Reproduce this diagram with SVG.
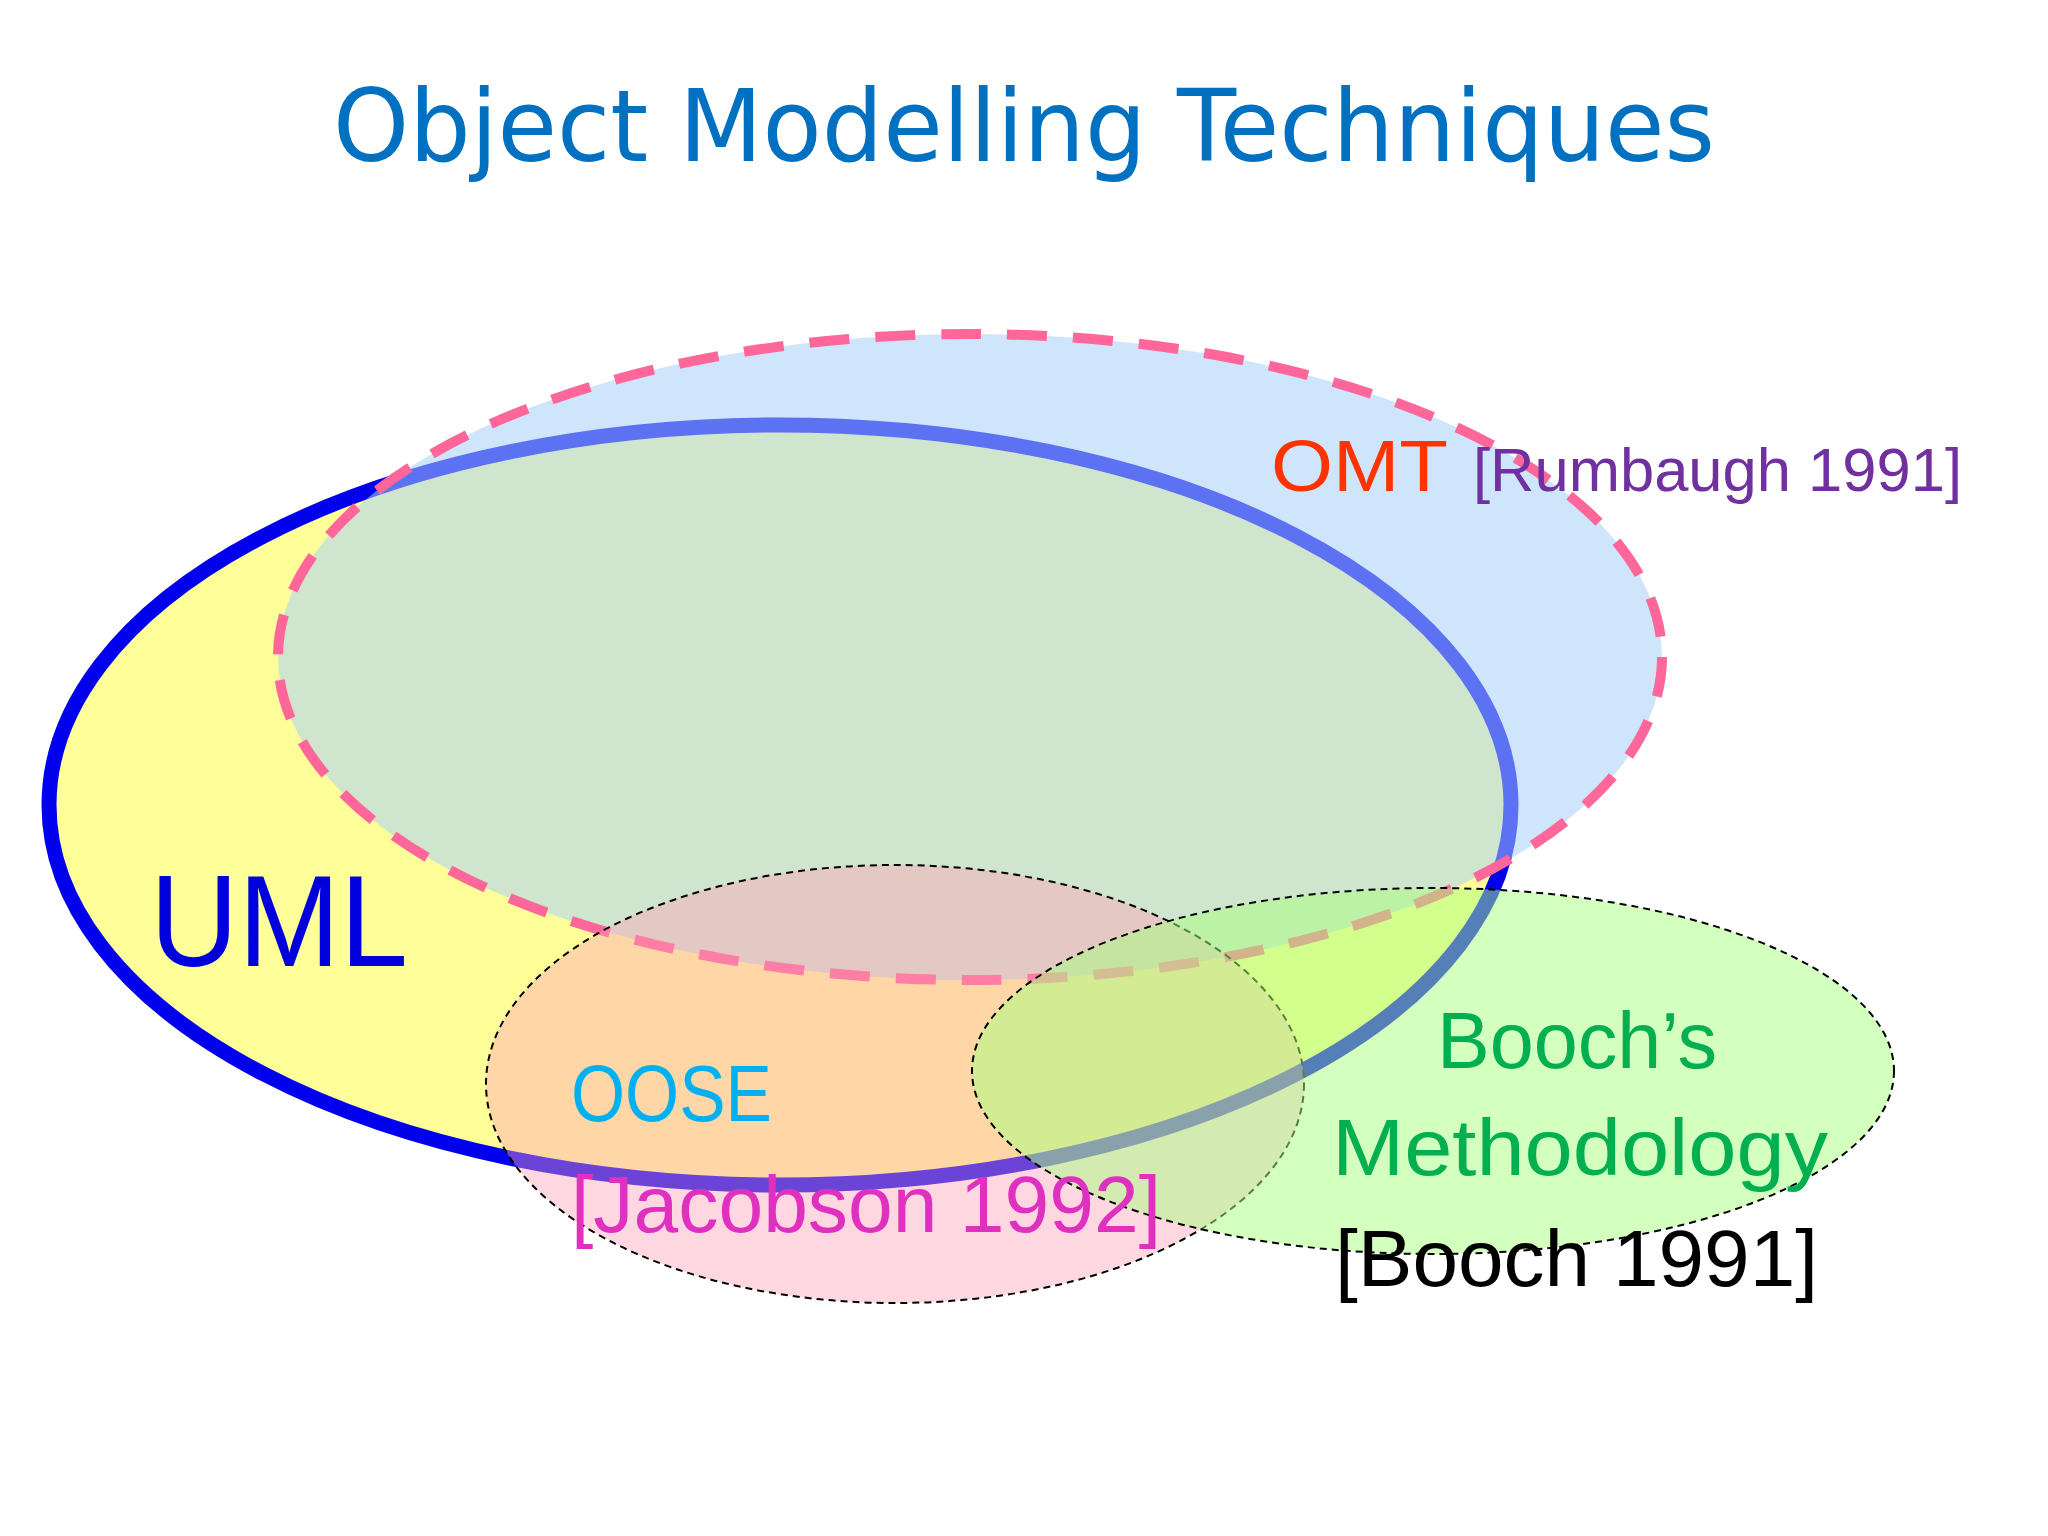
<svg xmlns="http://www.w3.org/2000/svg" width="2048" height="1536" viewBox="0 0 2048 1536">
<style>
.t{font-family:"Liberation Sans","Open Sans",sans-serif}
.thin{stroke:#000;stroke-width:2;stroke-dasharray:7 5}
</style>
<rect width="2048" height="1536" fill="#fff"/>
<text x="333" y="161" font-family="'DejaVu Sans',sans-serif" font-size="100" fill="#0070C0" textLength="1382" lengthAdjust="spacingAndGlyphs">Object Modelling Techniques</text>
<g id="uml">
<ellipse cx="780" cy="805" rx="731" ry="380" fill="#ffff99" stroke="#0000ee" stroke-width="15"/>
</g>
<g id="omt">
<ellipse cx="970" cy="657" rx="692" ry="323" fill="#a8d0f8" fill-opacity="0.55" stroke="#ff6699" stroke-width="10" stroke-dasharray="40 26"/>
</g>
<g id="oose">
<ellipse cx="895" cy="1084" rx="409" ry="219" fill="#ffa0b8" fill-opacity="0.42" class="thin"/>
</g>
<g id="booch">
<ellipse cx="1433" cy="1071" rx="461" ry="183" fill="#a8ff80" fill-opacity="0.5" class="thin"/>
</g>
<g id="labels">
<text class="t" x="150" y="966" font-size="130" fill="#0000dd" textLength="258" lengthAdjust="spacingAndGlyphs">UML</text>
<text class="t" x="1271" y="491" font-size="72" fill="#ff3300" textLength="177" lengthAdjust="spacingAndGlyphs">OMT</text>
<text class="t" x="1473" y="491" font-size="62" fill="#7030A0" textLength="489" lengthAdjust="spacingAndGlyphs">[Rumbaugh 1991]</text>
<text class="t" x="571" y="1121" font-size="80" fill="#00b0f0" textLength="201" lengthAdjust="spacingAndGlyphs">OOSE</text>
<text class="t" x="571" y="1232" font-size="80" fill="#e030c0" textLength="590" lengthAdjust="spacingAndGlyphs">[Jacobson 1992]</text>
<text class="t" x="1437" y="1068" font-size="80" fill="#00b050" textLength="280" lengthAdjust="spacingAndGlyphs">Booch’s</text>
<text class="t" x="1332" y="1175" font-size="80" fill="#00b050" textLength="496" lengthAdjust="spacingAndGlyphs">Methodology</text>
<text class="t" x="1335" y="1286" font-size="80" fill="#000" textLength="483" lengthAdjust="spacingAndGlyphs">[Booch 1991]</text>
</g>
</svg>
